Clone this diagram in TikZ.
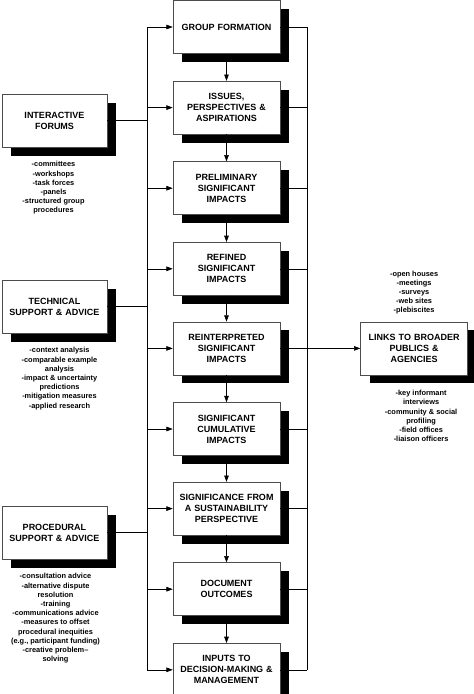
\documentclass[tikz,border=0pt]{standalone}
\usepackage{fontspec}
\setmainfont{Liberation Sans}
\usepackage{tikz}
\usetikzlibrary{arrows.meta,positioning,shadows}

\begin{document}
\begin{tikzpicture}[
  font=\fontsize{9}{11}\selectfont\bfseries,
  box/.style={draw=black!70, line width=0.6pt, fill=white, align=center,
    minimum width=107pt, minimum height=53pt, text width=100pt, inner sep=2pt,
    drop shadow={shadow xshift=9pt, shadow yshift=-8.5pt, fill=black, opacity=1}},
  list/.style={font=\fontsize{7.4}{9.2}\selectfont\bfseries, align=center, inner sep=0pt},
  arr/.style={-{Triangle[length=2.2mm, width=1.6mm]}, line width=0.6pt},
  link/.style={line width=0.6pt}
]
\useasboundingbox (0,0) rectangle (474pt,-694pt);

% --- main column ---
\node[box] (form) at (226.5pt,-27pt) {GROUP FORMATION};
\node[box, below=27pt of form] (issues) {ISSUES,\\PERSPECTIVES \&\\ASPIRATIONS};
\node[box, below=27pt of issues] (prelim) {PRELIMINARY\\SIGNIFICANT\\IMPACTS};
\node[box, below=27pt of prelim] (refined) {REFINED\\SIGNIFICANT\\IMPACTS};
\node[box, below=26pt of refined] (reint) {REINTERPRETED\\SIGNIFICANT\\IMPACTS};
\node[box, below=27pt of reint] (cumul) {SIGNIFICANT\\CUMULATIVE\\IMPACTS};
\node[box, below=26pt of cumul] (sustain) {SIGNIFICANCE FROM\\A SUSTAINABILITY\\PERSPECTIVE};
\node[box, below=27pt of sustain] (docout) {DOCUMENT\\OUTCOMES};
\node[box, below=27pt of docout] (inputs) {INPUTS TO\\DECISION-MAKING \&\\MANAGEMENT};

% --- support boxes on the left ---
\node[box, minimum width=105pt] (forums) at (54.5pt,-120.5pt) {INTERACTIVE\\FORUMS};
\node[list, below=14pt of forums, xshift=-1pt] (forumsl) {%
  -committees\\-workshops\\-task forces\\-panels\\-structured group\\procedures};

\node[box, minimum width=105pt] (tech) at (54.5pt,-306.5pt) {TECHNICAL\\SUPPORT \& ADVICE};
\node[list, below=14pt of tech, xshift=5pt] (techl) {%
  -context analysis\\-comparable example\\analysis\\-impact \& uncertainty\\predictions\\%
  -mitigation measures\\-applied research};

\node[box, minimum width=105pt] (proc) at (54.5pt,-532.5pt) {PROCEDURAL\\SUPPORT \& ADVICE};
\node[list, below=14pt of proc, xshift=1pt] (procl) {%
  -consultation advice\\-alternative dispute\\resolution\\-training\\%
  -communications advice\\-measures to offset\\procedural inequities\\%
  (e.g., participant funding)\\-creative problem--\\solving};

% --- links on the right ---
\node[box] (links) [right=80pt of reint] {LINKS TO BROADER\\PUBLICS \&\\AGENCIES};
\node[list, above=7pt of links] (linksa) {%
  -open houses\\-meetings\\-surveys\\-web sites\\-plebiscites};
\node[list, below=15pt of links, xshift=7pt] (linksb) {%
  -key informant\\interviews\\-community \& social\\profiling\\-field offices\\-liaison officers};

% --- bus lines ---
\coordinate (lbus) at (147pt,0pt);
\coordinate (rbus) at (307pt,0pt);
\draw[link] (lbus |- form.west) -- (lbus |- inputs.west);
\draw[link] (rbus |- form.east) -- (rbus |- inputs.east);

\draw[link] (forums.east) -- (lbus |- forums.east);
\draw[link] (tech.east) -- (lbus |- tech.east);
\draw[link] (proc.east) -- (lbus |- proc.east);

\draw[arr] (lbus |- form.west) -- (form.west);
\draw[arr] (lbus |- issues.west) -- (issues.west);
\draw[arr] (lbus |- prelim.west) -- (prelim.west);
\draw[arr] (lbus |- refined.west) -- (refined.west);
\draw[arr] (lbus |- reint.west) -- (reint.west);
\draw[arr] (lbus |- cumul.west) -- (cumul.west);
\draw[arr] (lbus |- sustain.west) -- (sustain.west);
\draw[arr] (lbus |- docout.west) -- (docout.west);
\draw[arr] (lbus |- inputs.west) -- (inputs.west);

\draw[link] (form.east) -- (rbus |- form.east);
\draw[link] (issues.east) -- (rbus |- issues.east);
\draw[link] (prelim.east) -- (rbus |- prelim.east);
\draw[link] (refined.east) -- (rbus |- refined.east);
\draw[link] (cumul.east) -- (rbus |- cumul.east);
\draw[link] (sustain.east) -- (rbus |- sustain.east);
\draw[link] (docout.east) -- (rbus |- docout.east);
\draw[link] (inputs.east) -- (rbus |- inputs.east);
\draw[arr] (reint.east) -- (links.west);

% --- chain arrows ---
\draw[arr] (form.south) -- (issues.north);
\draw[arr] (issues.south) -- (prelim.north);
\draw[arr] (prelim.south) -- (refined.north);
\draw[arr] (refined.south) -- (reint.north);
\draw[arr] (reint.south) -- (cumul.north);
\draw[arr] (cumul.south) -- (sustain.north);
\draw[arr] (sustain.south) -- (docout.north);
\draw[arr] (docout.south) -- (inputs.north);
\end{tikzpicture}
\end{document}
